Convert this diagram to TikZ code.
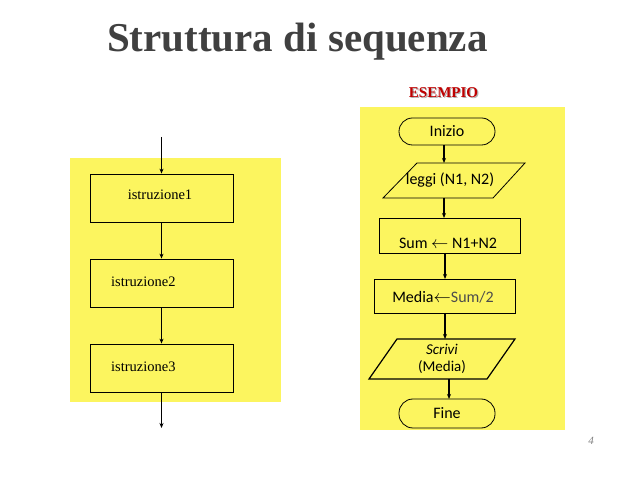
\documentclass[tikz,border=0pt]{standalone}
\usepackage{fontspec}
\setmainfont{Liberation Serif}
\newfontfamily\calfont{Carlito}
\usetikzlibrary{arrows.meta}
\definecolor{yel}{HTML}{FCF55F}
\begin{document}
\begin{tikzpicture}[x=1pt,y=-1pt,
  bx/.style={draw,line width=0.8pt,fill=yel},
  ar/.style={-{Stealth[length=5pt,width=4pt]},line width=1.3pt},
  lt/.style={font=\fontsize{14.5}{16}\selectfont},
  tx/.style={font=\calfont\fontsize{16}{18}\selectfont}]
\useasboundingbox (0,0) rectangle (638,478);
\fill[white] (0,0) rectangle (638,478);
\node[anchor=west,font=\bfseries\fontsize{41}{44}\selectfont,text=black!75,inner sep=0pt] (title) at (107,42) {Struttura di sequenza};
% left
\fill[yel] (70,158) rectangle (281,402);
\node[bx,minimum width=143pt,minimum height=48pt] (i1) at (161.5,198) {};
\node[bx,minimum width=143pt,minimum height=48pt] (i2) at (161.5,283) {};
\node[bx,minimum width=143pt,minimum height=48pt] (i3) at (161.5,368) {};
\node[lt] (t1) at (160,195) {istruzione1};
\node[lt,anchor=west,inner sep=0pt] (t2) at (111,282) {istruzione2};
\node[lt,anchor=west,inner sep=0pt] (t3) at (111,367) {istruzione3};
\coordinate (ltop) at (161.5,137);
\coordinate (lbot) at (161.5,428);
\draw[ar] (ltop) -- (i1);
\draw[ar] (i1) -- (i2);
\draw[ar] (i2) -- (i3);
\draw[ar] (i3) -- (lbot);
% right
\node[font=\bfseries\fontsize{15}{17}\selectfont,text=black!30] at (444.8,93.8) {ESEMPIO};
\node[font=\bfseries\fontsize{15}{17}\selectfont,text=red!75!black] (es) at (443.5,92.5) {ESEMPIO};
\fill[yel] (360,107) rectangle (565,430);
\draw[bx,rounded corners=13.5pt] (399,118) rectangle (495,145);
\node[tx] (ini) at (447,131.5) {Inizio};
\draw[bx] (417,163) -- (525,163) -- (493,198) -- (383,198) -- cycle;
\node[tx] (leg) at (450,180.5) {leggi (N1, N2)};
\node[bx,minimum width=141pt,minimum height=35pt] (sum) at (449.5,235.5) {};
\node[tx] at (448,243) {Sum $\leftarrow$ N1+N2};
\node[bx,minimum width=141pt,minimum height=34pt] (med) at (444.5,296) {};
\node[tx] at (443,297) {Media$\leftarrow$\textcolor{black!70}{Sum/2}};
\draw[bx,line width=1.2pt] (397,339) -- (515,339) -- (487,379) -- (369,379) -- cycle;
\node[tx,align=center,font=\calfont\fontsize{15}{17}\selectfont] (scr) at (442,359) {\itshape Scrivi\\(Media)};
\draw[bx,rounded corners=14pt] (399,399) rectangle (495,428);
\node[tx] (fin) at (447,413.5) {Fine};
\draw[ar] (444,145) -- (444,163);
\draw[ar] (444,198) -- (444,218);
\draw[ar] (445,253) -- (445,279);
\draw[ar] (445,313) -- (445,339);
\draw[ar] (449,379) -- (449,399);
\node[font=\itshape\fontsize{11}{12}\selectfont,text=black!50] (pg) at (591,441) {4};
\end{tikzpicture}
\end{document}
